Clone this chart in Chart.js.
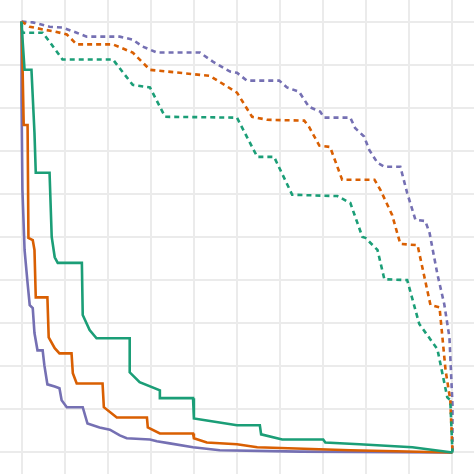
<!DOCTYPE html>
<html>
<head>
<meta charset="utf-8">
<script src="https://cdn.jsdelivr.net/npm/chart.js@4/dist/chart.umd.min.js"></script>
<style>
  html, body { margin: 0; padding: 0; background: #fff; }
  #wrap { width: 474px; height: 474px; }
</style>
</head>
<body>
<div id="wrap"><canvas id="chart"></canvas></div>
<script>
// grid positions (both axes, percent)
const gridTicks = [0, 10, 20, 30, 40, 50, 60, 70, 80, 90, 100];

// solid curves: [x, y] points
const greenSolid = [
  [0,100],[0.2,96.3],[0.7,88.8],[2.3,88.8],[3.0,74.2],[3.3,64.9],[6.5,64.9],
  [7.0,50.0],[7.7,45.3],[8.4,44.0],[14.0,44.0],[14.2,31.9],[15.8,28.4],[17.4,26.5],
  [25.1,26.5],[25.1,18.6],[27.4,16.3],[32.1,14.4],[32.1,12.6],[39.8,12.6],[40.0,7.9],
  [43.0,7.4],[50.0,6.3],[55.3,6.3],[55.6,4.2],[60.5,3.0],[70.0,3.0],[70.5,2.3],
  [78.4,1.9],[90.7,1.2],[100,0]
];
const orangeSolid = [
  [0,100],[0.2,91.2],[0.5,76.0],[1.4,76.0],[1.6,49.8],[2.6,49.3],[3.0,47.0],
  [3.3,36.0],[6.0,36.0],[6.3,26.7],[7.7,24.2],[8.8,23.0],[11.6,23.0],[11.9,18.4],
  [12.8,16.0],[18.8,16.0],[19.1,10.5],[22.1,8.1],[29.1,8.1],[29.3,5.8],[32.1,4.4],
  [39.8,4.4],[40.0,3.3],[43.0,2.3],[50.0,1.9],[54.7,1.2],[76.3,0.5],[100,0]
];
const purpleSolid = [
  [0,100],[0,81.9],[0.2,61.0],[0.7,47.0],[1.4,39.3],[1.9,34.2],[2.6,33.5],
  [3.0,27.7],[3.7,23.7],[4.9,23.7],[5.3,20.2],[6.0,15.8],[7.7,15.3],[8.8,14.9],
  [9.3,12.1],[10.5,10.5],[14.2,10.5],[15.3,6.7],[18.1,5.8],[20.5,5.3],[22.8,3.95],
  [24.4,3.3],[29.8,3.0],[31.4,2.6],[34.4,2.1],[39.8,1.2],[46.0,0.5],[64.7,0.2],[100,0]
];

// dashed curves
const greenDashed = [
  [0,100],[0.2,97.4],[4.9,97.4],[6.5,95.3],[9.5,91.2],[21.2,91.2],[25.8,85.3],
  [29.8,84.7],[33.3,77.9],[50.0,77.7],[54.7,68.6],[58.6,68.6],[62.8,59.8],[73.3,59.5],
  [76.3,57.9],[79.1,50.0],[79.8,49.8],[82.6,47.0],[84.2,40.2],[89.5,40.0],[92.3,29.8],
  [96.5,24.0],[98.8,12.8],[99.5,12.1],[100,0]
];
const orangeDashed = [
  [0,100],[1.9,98.8],[5.3,98.1],[7.7,97.7],[10.5,97.0],[12.8,94.7],[21.2,94.7],
  [25.8,92.8],[29.8,88.8],[43.7,87.4],[50.0,83.5],[53.5,77.9],[57.0,77.2],[65.6,77.0],
  [66.7,75.6],[69.1,71.2],[71.6,70.9],[74.4,63.3],[81.9,63.3],[83.3,60.9],[86.0,55.1],
  [87.9,48.4],[91.9,48.1],[94.9,34.2],[97.0,33.7],[98.4,19.1],[99.5,12.1],[100,0]
];
const purpleDashed = [
  [0,100],[2.6,99.8],[6.5,98.8],[9.5,98.6],[12.8,97.4],[15.1,96.5],[22.8,96.5],
  [25.8,95.8],[28.1,94.2],[31.4,92.8],[41.4,92.8],[44.4,90.7],[48.4,88.4],[50.0,88.1],
  [52.3,86.3],[59.8,86.3],[61.6,84.7],[64.4,83.7],[66.7,80.2],[69.3,79.1],[70.2,77.7],
  [76.3,77.7],[77.4,75.3],[79.5,73.3],[80.7,70.2],[82.6,67.2],[84.2,66.3],[87.9,66.3],
  [89.5,60.2],[90.7,56.3],[91.4,54.0],[93.7,53.7],[94.7,50.9],[95.3,47.7],[96.5,41.4],
  [98.1,34.4],[99.3,26.7],[100,11.2],[100,0]
];

const GREEN = "#1b9e77", ORANGE = "#d95f02", PURPLE = "#7570b3";

function series(points, color, dashed) {
  return {
    data: points.map(p => ({ x: p[0], y: p[1] })),
    borderColor: color,
    borderWidth: 2.6,
    borderDash: dashed ? [5, 4] : [],
    pointRadius: 0,
    showLine: true,
    fill: false,
    tension: 0
  };
}

function gridAxis() {
  return {
    type: "linear",
    min: -5,
    max: 105,
    afterBuildTicks: axis => { axis.ticks = gridTicks.map(v => ({ value: v })); },
    ticks: { display: false },
    border: { display: false },
    grid: { color: "#ebebeb", lineWidth: 2, drawTicks: false }
  };
}

new Chart(document.getElementById("chart"), {
  type: "scatter",
  data: {
    datasets: [
      series(greenDashed, GREEN, true),
      series(orangeDashed, ORANGE, true),
      series(purpleDashed, PURPLE, true),
      series(greenSolid, GREEN, false),
      series(orangeSolid, ORANGE, false),
      series(purpleSolid, PURPLE, false)
    ]
  },
  options: {
    responsive: true,
    maintainAspectRatio: false,
    animation: false,
    layout: { padding: 0 },
    plugins: { legend: { display: false }, tooltip: { enabled: false } },
    scales: { x: gridAxis(), y: gridAxis() }
  }
});
</script>
</body>
</html>
